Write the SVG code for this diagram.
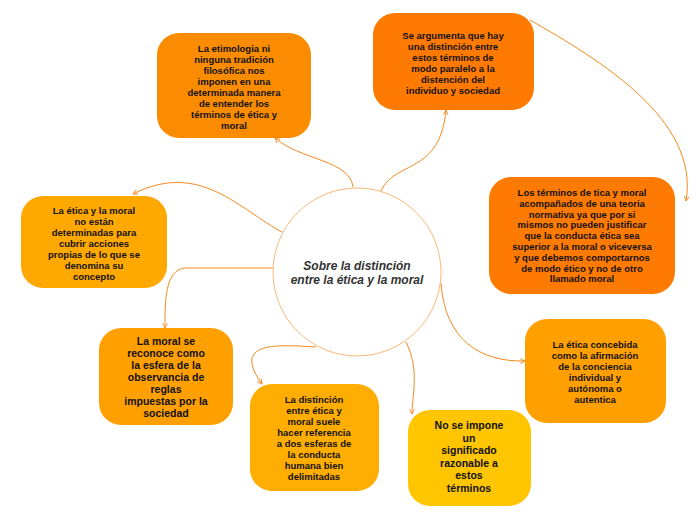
<svg xmlns="http://www.w3.org/2000/svg" width="696" height="520" viewBox="0 0 696 520">
<style>
.t{font-family:"Liberation Sans",Arial,sans-serif;font-weight:bold;font-size:9.5px;fill:#111;text-anchor:middle}
.c{fill:none;stroke:#F5891E;stroke-width:1}
</style>
<defs><marker id="a" viewBox="0 0 10 10" refX="9" refY="5" markerWidth="6" markerHeight="6" orient="auto"><path d="M1,1 L9,5 L1,9" fill="none" stroke="#F5891E" stroke-width="1.5"/></marker></defs>
<rect width="696" height="520" fill="#fff"/>
<g id="connectors">
<path class="c" d="M353,187 C350,160 300,160 275,138" marker-end="url(#a)"/>
<path class="c" d="M381,191 C395,160 440,175 446,110" marker-end="url(#a)"/>
<path class="c" d="M530,20 C600,60 700,120 686,201" marker-end="url(#a)"/>
<path class="c" d="M282,232 C240,210 200,160 133,194" marker-end="url(#a)"/>
<path class="c" d="M314,268 L185,268 C165,270 165,300 165,328" marker-end="url(#a)"/>
<path class="c" d="M316,347 C280,345 230,340 262,384" marker-end="url(#a)"/>
<path class="c" d="M406,342 C420,370 412,395 412,414" marker-end="url(#a)"/>
<path class="c" d="M441,283 C445,340 480,362 525,361" marker-end="url(#a)"/>
</g>
<g id="center"><circle cx="357" cy="272" r="84" fill="#fff" stroke="#F8B878"/>
<text x="357" y="270" class="t" style="font-size:12px;font-style:italic;fill:#333">Sobre la distinción</text>
<text x="357" y="284" class="t" style="font-size:12px;font-style:italic;fill:#333">entre la ética y la moral</text></g>
<g id="n1"><rect x="157" y="33" width="154" height="105" rx="22" fill="#FB8C00"/>
<text class="t" x="234" y="52"><tspan x="234">La etimologia ni</tspan><tspan x="234" dy="11">ninguna tradición</tspan><tspan x="234" dy="11">filosófica nos</tspan><tspan x="234" dy="11">imponen en una</tspan><tspan x="234" dy="11">determinada manera</tspan><tspan x="234" dy="11">de entender los</tspan><tspan x="234" dy="11">términos de ética y</tspan><tspan x="234" dy="11">moral</tspan></text></g>
<g id="n2"><rect x="373" y="13" width="161" height="97" rx="22" fill="#FF7A00"/>
<text class="t" x="453" y="39"><tspan x="453">Se argumenta que hay</tspan><tspan x="453" dy="11">una distinción entre</tspan><tspan x="453" dy="11">estos términos de</tspan><tspan x="453" dy="11">modo paralelo a la</tspan><tspan x="453" dy="11">distención del</tspan><tspan x="453" dy="11">individuo y sociedad</tspan></text></g>
<g id="n3"><rect x="489" y="177" width="186" height="117" rx="22" fill="#FF7A00"/>
<text class="t" x="582" y="196"><tspan x="582">Los términos de tica y moral</tspan><tspan x="582" dy="10.8">acompañados de una teoria</tspan><tspan x="582" dy="10.8">normativa ya que por si</tspan><tspan x="582" dy="10.8">mismos no pueden justificar</tspan><tspan x="582" dy="10.8">que la conducta ética sea</tspan><tspan x="582" dy="10.8">superior a la moral o viceversa</tspan><tspan x="582" dy="10.8">y que debemos comportarnos</tspan><tspan x="582" dy="10.8">de modo ético y no de otro</tspan><tspan x="582" dy="10.8">llamado moral</tspan></text></g>
<g id="n4"><rect x="21" y="196" width="146" height="92" rx="22" fill="#FFA800"/>
<text class="t" x="94" y="214"><tspan x="94">La ética y la moral</tspan><tspan x="94" dy="11">no están</tspan><tspan x="94" dy="11">determinadas para</tspan><tspan x="94" dy="11">cubrir acciones</tspan><tspan x="94" dy="11">propias de lo que se</tspan><tspan x="94" dy="11">denomina su</tspan><tspan x="94" dy="11">concepto</tspan></text></g>
<g id="n5"><rect x="99" y="328" width="134" height="97" rx="22" fill="#FF9F00"/>
<text class="t" x="166" y="345" style="font-size:10.5px"><tspan x="166">La moral se</tspan><tspan x="166" dy="12">reconoce como</tspan><tspan x="166" dy="12">la esfera de la</tspan><tspan x="166" dy="12">observancia de</tspan><tspan x="166" dy="12">reglas</tspan><tspan x="166" dy="12">impuestas por la</tspan><tspan x="166" dy="12">sociedad</tspan></text></g>
<g id="n6"><rect x="250" y="384" width="129" height="107" rx="22" fill="#FFAD00"/>
<text class="t" x="314" y="403"><tspan x="314">La distinción</tspan><tspan x="314" dy="11">entre ética y</tspan><tspan x="314" dy="11">moral suele</tspan><tspan x="314" dy="11">hacer referencia</tspan><tspan x="314" dy="11">a dos esferas de</tspan><tspan x="314" dy="11">la conducta</tspan><tspan x="314" dy="11">humana bien</tspan><tspan x="314" dy="11">delimitadas</tspan></text></g>
<g id="n7"><rect x="408" y="410" width="123" height="96" rx="22" fill="#FFC500"/>
<text class="t" x="469" y="429" style="font-size:10.5px"><tspan x="469">No se impone</tspan><tspan x="469" dy="12.5">un</tspan><tspan x="469" dy="12.5">significado</tspan><tspan x="469" dy="12.5">razonable a</tspan><tspan x="469" dy="12.5">estos</tspan><tspan x="469" dy="12.5">términos</tspan></text></g>
<g id="n8"><rect x="525" y="319" width="141" height="104" rx="22" fill="#FF9F00"/>
<text class="t" x="595" y="348"><tspan x="595">La ética concebida</tspan><tspan x="595" dy="11">como la afirmación</tspan><tspan x="595" dy="11">de la conciencia</tspan><tspan x="595" dy="11">individual y</tspan><tspan x="595" dy="11">autónoma o</tspan><tspan x="595" dy="11">autentica</tspan></text></g>
</svg>
